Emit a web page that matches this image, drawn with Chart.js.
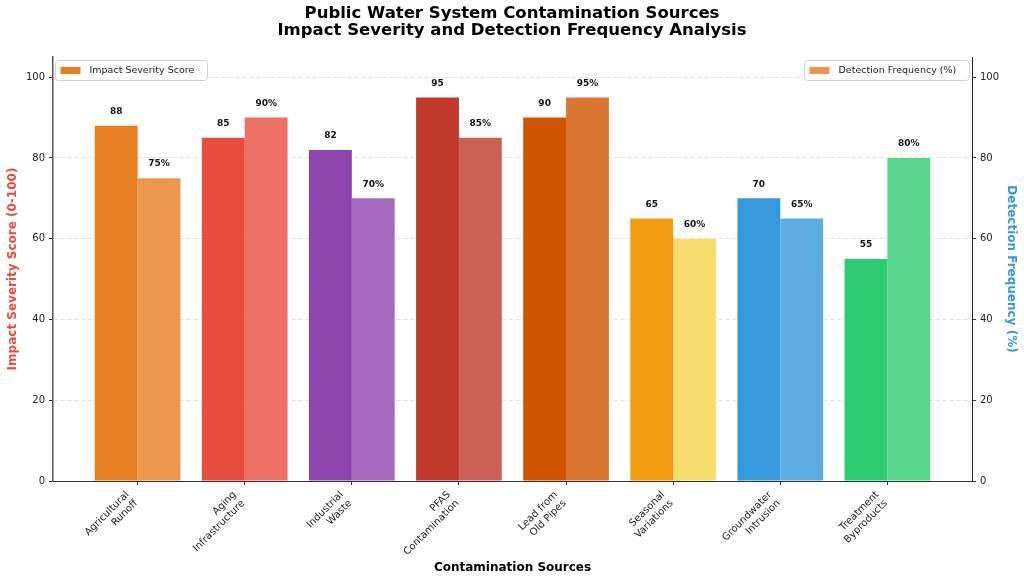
<!DOCTYPE html>
<html>
<head>
<meta charset="utf-8">
<script src="https://cdn.jsdelivr.net/npm/chart.js@4"></script>
<style>
	html, body { margin: 0; padding: 0; background: #fff; }
	#wrap { width: 1024px; height: 582px; }
</style>
</head>
<body>
<div id="wrap"><canvas id="chart" width="1024" height="582"></canvas></div>
<script>
const categories = [
	'Agricultural\nRunoff',
	'Aging\nInfrastructure',
	'Industrial\nWaste',
	'PFAS\nContamination',
	'Lead from\nOld Pipes',
	'Seasonal\nVariations',
	'Groundwater\nIntrusion',
	'Treatment\nByproducts',
];
const severityScores = [88, 85, 82, 95, 90, 65, 70, 55];
const detectionFreq = [75, 90, 70, 85, 95, 60, 65, 80];
const yTicks = [0, 20, 40, 60, 80, 100];

const severityColors = ['#e67e22', '#e74c3c', '#8e44ad', '#c0392b', '#d35400', '#f39c12', '#3498db', '#2ecc71'];
const freqColors = ['#eb984e', '#ec7063', '#a569bd', '#cd6155', '#dc7633', '#f7dc6f', '#5dade2', '#58d68d'];

const FONT = "'DejaVu Sans', sans-serif";

// 标题、数值标签、图例
const decorPlugin = {
	id: 'decor',
	afterDatasetsDraw(chart) {
		const { ctx } = chart;
		ctx.save();
		ctx.fillStyle = '#000';
		ctx.textAlign = 'center';
		ctx.textBaseline = 'middle';
		ctx.font = `bold 16.5px 'DejaVu Sans'`;
		ctx.fillText('Public Water System Contamination Sources', 512, 14);
		ctx.fillText('Impact Severity and Detection Frequency Analysis', 512, 31);

		ctx.font = `bold 9px ${FONT}`;
		ctx.fillStyle = '#111';
		chart.data.datasets.forEach((ds, di) => {
			const meta = chart.getDatasetMeta(di);
			meta.data.forEach((bar, i) => {
				const v = ds.data[i].y;
				ctx.fillText(di === 0 ? String(v) : v + '%', bar.x, bar.y - 14);
			});
		});

		const drawLegend = (x, y, w, label, color) => {
			ctx.beginPath();
			ctx.roundRect(x, y, w, 20, 3);
			ctx.fillStyle = 'rgba(255,255,255,0.8)';
			ctx.fill();
			ctx.strokeStyle = '#d0d0d0';
			ctx.lineWidth = 1;
			ctx.stroke();
			ctx.fillStyle = color;
			ctx.fillRect(x + 5, y + 6.5, 20, 7);
			ctx.fillStyle = '#222';
			ctx.textAlign = 'left';
			ctx.font = `9.5px ${FONT}`;
			ctx.fillText(label, x + 34, y + 10.5);
		};
		drawLegend(55.5, 60.5, 152, chart.data.datasets[0].label, severityColors[0]);
		drawLegend(804.5, 60.5, 165, chart.data.datasets[1].label, freqColors[0]);
		ctx.restore();
	},
};

new Chart(document.getElementById('chart'), {
	type: 'bar',
	data: {
		datasets: [
			{
				label: 'Impact Severity Score',
				data: severityScores.map((v, i) => ({ x: i, y: v })),
				backgroundColor: severityColors,
				borderWidth: 0,
				yAxisID: 'y',
			},
			{
				label: 'Detection Frequency (%)',
				data: detectionFreq.map((v, i) => ({ x: i, y: v })),
				backgroundColor: freqColors,
				borderWidth: 0,
				yAxisID: 'y2',
			},
		],
	},
	plugins: [decorPlugin],
	options: {
		responsive: false,
		animation: false,
		categoryPercentage: 0.8,
		barPercentage: 1.0,
		layout: { padding: { top: 57, left: 0, right: 0, bottom: 0 } },
		plugins: {
			legend: { display: false },
			tooltip: { enabled: false },
		},
		scales: {
			x: {
				type: 'linear',
				offset: false,
				min: -0.79,
				max: 7.79,
				afterBuildTicks: (scale) => {
					scale.ticks = categories.map((_, i) => ({ value: i }));
				},
				afterFit: (scale) => { scale.height = 101; },
				ticks: {
					autoSkip: false,
					minRotation: 45,
					maxRotation: 45,
					color: '#222',
					font: { family: FONT, size: 10 },
					padding: 4,
					labelOffset: -10,
					callback: (v) => categories[v] ? categories[v].split('\n') : '',
				},
				grid: {
					display: true,
					offset: false,
					drawOnChartArea: false,
					drawTicks: true,
					tickLength: 4,
					tickColor: '#333',
				},
				border: { display: true, color: '#333', width: 1 },
				title: {
					display: true,
					text: 'Contamination Sources',
					color: '#000',
					font: { family: FONT, size: 12, weight: 'bold' },
					padding: { top: 0, bottom: 7 },
				},
			},
			y: {
				position: 'left',
				min: 0,
				max: 105,
				afterBuildTicks: (scale) => {
					scale.ticks = yTicks.map((v) => ({ value: v }));
				},
				afterFit: (scale) => { scale.width = 53; },
				ticks: {
					color: '#222',
					font: { family: FONT, size: 10 },
					padding: 4,
				},
				grid: {
					color: (c) => (c.tick && c.tick.value === 0 ? 'rgba(0,0,0,0)' : 'rgba(0,0,0,0.12)'),
					lineWidth: 1,
					tickBorderDash: [],
					tickColor: '#333',
					tickLength: 4,
				},
				border: { display: true, color: '#555', width: 1.5, dash: [4, 3] },
				title: {
					display: true,
					text: 'Impact Severity Score (0-100)',
					color: '#e74c3c',
					font: { family: FONT, size: 12, weight: 'bold' },
					padding: { top: 6, bottom: 0 },
				},
			},
			y2: {
				position: 'right',
				min: 0,
				max: 105,
				afterBuildTicks: (scale) => {
					scale.ticks = yTicks.map((v) => ({ value: v }));
				},
				afterFit: (scale) => { scale.width = 52; },
				ticks: {
					color: '#222',
					font: { family: FONT, size: 10 },
					padding: 4,
				},
				grid: {
					display: true,
					drawOnChartArea: false,
					tickColor: '#333',
					tickLength: 4,
				},
				border: { display: true, color: '#222', width: 1 },
				title: {
					display: true,
					text: 'Detection Frequency (%)',
					color: '#3498db',
					font: { family: FONT, size: 12, weight: 'bold' },
					padding: { top: 6, bottom: 0 },
				},
			},
		},
	},
});
</script>
</body>
</html>
